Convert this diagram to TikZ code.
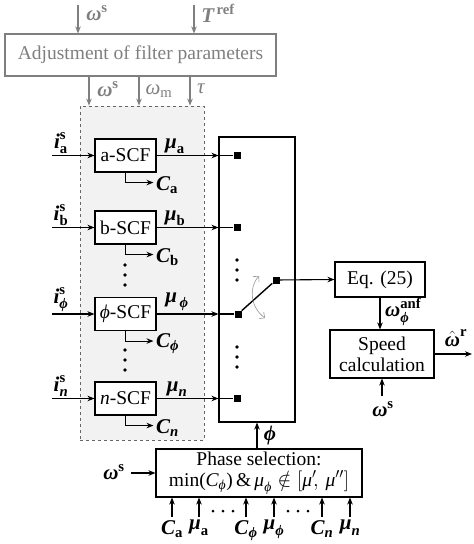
\documentclass[tikz,border=0pt]{standalone}
\usepackage{amsmath}
\usepackage{fontspec}
\setmainfont{Liberation Serif}
\usetikzlibrary{arrows.meta}
\definecolor{gr}{HTML}{7F7F7F}
\definecolor{grpfill}{HTML}{F2F2F2}
\newcommand\BI[1]{\text{\bfseries\itshape #1}}
\newcommand\BU[1]{\text{\bfseries #1}}
\newcommand\IT[1]{\text{\itshape #1}}
\begin{document}
\begin{tikzpicture}[x=1pt,y=-1pt,
  font=\fontsize{19.5}{22}\selectfont,
  box/.style={draw, line width=1.1pt, inner sep=0pt, align=center},
  arr/.style={-{Stealth[length=7pt,width=5.5pt]}, line width=1.1pt},
  garr/.style={arr, draw=gr},
  ln/.style={line width=1.1pt},
  sq/.style={fill=black, minimum size=7pt, inner sep=0pt},
  dot/.style={circle, fill=black, minimum size=3.6pt, inner sep=0pt},
  lab/.style={inner sep=1pt, font=\fontsize{21}{24}\selectfont}]
\useasboundingbox (0,0) rectangle (474,544);

% top adjustment block
\node[box, draw=gr, text=gr, minimum width=271pt, minimum height=42pt] (adj) at (140.5,55) {Adjustment of filter parameters};
\coordinate (t1) at (78,5);
\coordinate (t2) at (194,5);
\draw[garr] (t1) -- (t1 |- adj.north);
\draw[garr] (t2) -- (t2 |- adj.north);
\node[lab, text=gr] (lt1) at (97,13) {$\BI{ω}^{\BU{s}}$};
\node[lab, text=gr] (lt2) at (218,13) {$\BI{T}^{\,\BU{ref}}$};

% dashed group
\node[draw=gr!80!black, dashed, fill=grpfill, line width=0.8pt, minimum width=124pt, minimum height=334pt, inner sep=0pt] (grp) at (142,273) {};
\coordinate (g1) at (89,0);
\coordinate (g2) at (139,0);
\coordinate (g3) at (190,0);
\draw[garr] (g1 |- adj.south) -- (g1 |- grp.north);
\draw[garr] (g2 |- adj.south) -- (g2 |- grp.north);
\draw[garr] (g3 |- adj.south) -- (g3 |- grp.north);
\node[lab, text=gr] (lg1) at (108,89) {$\BI{ω}^{\BU{s}}$};
\node[lab, text=gr] (lg2) at (159,91) {$\IT{ω}_{\text{m}}$};
\node[lab, text=gr] (lg3) at (201,89) {$\IT{τ}$};

% selector box
\node[box, minimum width=76pt, minimum height=285pt] (sel) at (257,279.5) {};

% SCF blocks
\node[box, fill=white, minimum width=61pt, minimum height=33pt] (scfa) at (125.5,155.5) {a-SCF};
\node[box, fill=white, minimum width=61pt, minimum height=33pt] (scfb) at (125.5,227.5) {b-SCF};
\node[box, fill=white, minimum width=61pt, minimum height=33pt] (scfp) at (125.5,314) {\textit{ϕ}-SCF};
\node[box, fill=white, minimum width=61pt, minimum height=33pt] (scfn) at (125.5,398.5) {\textit{n}-SCF};

% squares
\node[sq] (sqa) at (237,155.5) {};
\node[sq] (sqb) at (237,227.5) {};
\node[sq] (sqp) at (238,314) {};
\node[sq] (sqn) at (237,398.5) {};
\node[sq] (sqo) at (276,280) {};

% inputs
\coordinate (ia) at (52,155.5);
\coordinate (ib) at (52,227.5);
\coordinate (ip) at (52,314);
\coordinate (in) at (52,398.5);
\draw[arr] (ia) -- (scfa.west);
\draw[arr] (ib) -- (scfb.west);
\draw[arr] (ip) -- (scfp.west);
\draw[arr] (in) -- (scfn.west);
\node[lab, anchor=south] (lia) at (61,155) {$\BI{i}^{\BU{s}}_{\BU{a}}$};
\node[lab, anchor=south] (lib) at (61,227) {$\BI{i}^{\BU{s}}_{\BU{b}}$};
\node[lab, anchor=south] (lip) at (61,313) {$\BI{i}^{\BU{s}}_{\BI{ϕ}}$};
\node[lab, anchor=south] (lin) at (61,398) {$\BI{i}^{\BU{s}}_{\BI{n}}$};

% mu outputs
\foreach \s in {a,b,p,n}{
  \draw[arr] (scf\s.east) -- (scf\s.east -| sel.west);
  \draw[ln] (scf\s.east -| sel.west) -- (sq\s);
}
\node[lab, anchor=south] (lma) at (175,155) {$\BI{μ}_{\BU{a}}$};
\node[lab, anchor=south] (lmb) at (175,227) {$\BI{μ}_{\BU{b}}$};
\node[lab, anchor=south] (lmp) at (177,312) {$\BI{μ}_{\,\BI{ϕ}}$};
\node[lab, anchor=south] (lmn) at (177,398) {$\BI{μ}_{\BI{n}}$};

% C outputs
\foreach \s in {a,b,p,n}{
  \draw[arr] (scf\s.south) -- ++(0,10) -- ++(28,0);
}
\node[lab, anchor=west] (lca) at (155,185) {$\BI{C}_{\BU{a}}$};
\node[lab, anchor=west] (lcb) at (155,257) {$\BI{C}_{\BU{b}}$};
\node[lab, anchor=west] (lcp) at (155,344) {$\BI{C}_{\BI{ϕ}}$};
\node[lab, anchor=west] (lcn) at (155,428) {$\BI{C}_{\BI{n}}$};

% vertical dots
\foreach \y in {265,275,285,350,360,370} \node[dot] at (125,\y) {};
\foreach \y in {260,270,280,347,357,367} \node[dot] at (237,\y) {};

% switch
\draw[line width=1.4pt] (sqp) -- (sqo);
\draw[gr!80, line width=0.6pt, {Straight Barb[length=4pt]}-{Straight Barb[length=4pt]}] (259,276) .. controls (248,288) and (251,308) .. (265,318);

% Eq and speed
\node[box, minimum width=90pt, minimum height=35pt] (eq) at (380,279.5) {Eq. (25)};
\node[box, minimum width=104pt, minimum height=48pt, font=\fontsize{19.5}{21}\selectfont] (spd) at (382,354) {Speed\\calculation};
\draw[arr] (sqo) -- (eq.west);
\draw[arr] (eq.south) -- (eq.south |- spd.north);
\node[lab, anchor=west] (lanf) at (384,312) {$\BI{ω}^{\BU{anf}}_{\BI{ϕ}}$};
\coordinate (out) at (472,354);
\draw[arr] (spd.east) -- (out);
\node[lab] (lout) at (456,338) {$\hat{\BI{ω}}^{\BU{r}}$};
\coordinate (ws2) at (382,396);
\draw[arr] (ws2) -- (spd.south);
\node[lab] (lws2) at (383,409) {$\BI{ω}^{\BU{s}}$};

% phase selection
\node[box, minimum width=206pt, minimum height=48pt, font=\fontsize{19.5}{21}\selectfont] (ph) at (259,473)
  {Phase selection:\\min($\IT{C}_{\IT{ϕ}}$)\,\&\,$\IT{μ}_{\IT{ϕ}}\notin[\IT{μ}'\!,\,\IT{μ}'']$};
\draw[arr] (sel.south |- ph.north) -- (sel.south);
\node[lab] (lphi) at (270,436) {$\BI{ϕ}$};
\coordinate (ws3) at (131,473);
\draw[arr] (ws3) -- (ph.west);
\node[lab] (lws3) at (114,472) {$\BI{ω}^{\BU{s}}$};

\coordinate (b1) at (172,517);
\coordinate (b2) at (199,517);
\coordinate (b3) at (246,517);
\coordinate (b4) at (274,517);
\coordinate (b5) at (322,517);
\coordinate (b6) at (350,517);
\foreach \b in {b1,b2,b3,b4,b5,b6} \draw[arr] (\b) -- (\b |- ph.south);
\foreach \x in {213,223,233,288,298,308} \node[dot, minimum size=3pt] at (\x,511) {};
\node[lab, anchor=north] (lb1) at (172,519) {$\BI{C}_{\BU{a}}$};
\node[lab, anchor=north] (lb2) at (199,519) {$\BI{μ}_{\BU{a}}$};
\node[lab, anchor=north] (lb3) at (246,519) {$\BI{C}_{\BI{ϕ}}$};
\node[lab, anchor=north] (lb4) at (274,519) {$\BI{μ}_{\BI{ϕ}}$};
\node[lab, anchor=north] (lb5) at (322,519) {$\BI{C}_{\BI{n}}$};
\node[lab, anchor=north] (lb6) at (350,519) {$\BI{μ}_{\BI{n}}$};
\end{tikzpicture}
\end{document}
